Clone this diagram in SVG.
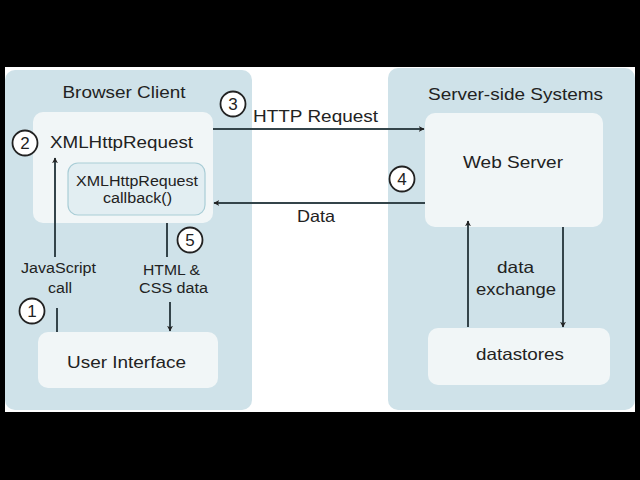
<svg xmlns="http://www.w3.org/2000/svg" width="640" height="480" viewBox="0 0 640 480">
<defs>
<style>
.panel{fill:#cfe2e9}
.box{fill:#f1f6f7}
.t{font-family:"Liberation Sans",Arial,sans-serif;fill:#222;text-anchor:middle}
.ln{stroke:#34444a;stroke-width:2;fill:none}
.num{fill:#fff;stroke:#222;stroke-width:1.8}
.d{font-family:"Liberation Sans",Arial,sans-serif;fill:#222;text-anchor:middle;font-size:17px}
</style>
<marker id="ah" viewBox="0 0 10 10" refX="9" refY="5" markerWidth="6" markerHeight="6" orient="auto" markerUnits="userSpaceOnUse">
<path d="M0,0 L10,5 L0,10 L3,5 z" fill="#222"/>
</marker>
</defs>
<rect width="640" height="480" fill="#000"/>
<rect x="5" y="67" width="630" height="345" fill="#fff"/>
<g id="browser-client">
<rect class="panel" x="5" y="70" width="247" height="340" rx="10"/>
<text class="t" x="124" y="98" font-size="16.5" textLength="123" lengthAdjust="spacingAndGlyphs">Browser Client</text>
</g>
<g id="server-side">
<rect class="panel" x="388" y="68" width="247" height="342" rx="10"/>
<text class="t" x="515.5" y="100" font-size="16.5" textLength="175" lengthAdjust="spacingAndGlyphs">Server-side Systems</text>
</g>
<g id="xhr">
<rect class="box" x="33" y="112" width="180" height="111" rx="10"/>
<text class="t" x="121.5" y="148" font-size="17" textLength="143" lengthAdjust="spacingAndGlyphs">XMLHttpRequest</text>
</g>
<g id="callback">
<rect x="68" y="163" width="137" height="52" rx="10" fill="#e2eef2" stroke="#a9cdd6" stroke-width="1.2"/>
<text class="t" x="137" y="186" font-size="14" textLength="122" lengthAdjust="spacingAndGlyphs">XMLHttpRequest</text>
<text class="t" x="137.5" y="203" font-size="14" textLength="69" lengthAdjust="spacingAndGlyphs">callback()</text>
</g>
<g id="user-interface">
<rect class="box" x="38" y="332" width="180" height="56" rx="10"/>
<text class="t" x="126.5" y="368" font-size="17" textLength="119" lengthAdjust="spacingAndGlyphs">User Interface</text>
</g>
<g id="web-server">
<rect class="box" x="425" y="113" width="178" height="114" rx="10"/>
<text class="t" x="513" y="168" font-size="16.5" textLength="100" lengthAdjust="spacingAndGlyphs">Web Server</text>
</g>
<g id="datastores">
<rect class="box" x="428" y="328" width="182" height="57" rx="10"/>
<text class="t" x="520" y="360" font-size="16.5" textLength="88" lengthAdjust="spacingAndGlyphs">datastores</text>
</g>
<g id="connectors">
<line class="ln" x1="55" y1="257" x2="55" y2="158" marker-end="url(#ah)"/>
<line class="ln" x1="57" y1="308" x2="57" y2="332"/>
<line class="ln" x1="167" y1="223" x2="167" y2="257"/>
<line class="ln" x1="170" y1="302" x2="170" y2="331" marker-end="url(#ah)"/>
<line class="ln" x1="213" y1="129" x2="424" y2="129" marker-end="url(#ah)"/>
<line class="ln" x1="425" y1="203" x2="214" y2="203" marker-end="url(#ah)"/>
<line class="ln" x1="468" y1="327" x2="468" y2="221" marker-end="url(#ah)"/>
<line class="ln" x1="563" y1="227" x2="563" y2="327" marker-end="url(#ah)"/>
<text class="t" x="58.5" y="273" font-size="14" textLength="75" lengthAdjust="spacingAndGlyphs">JavaScript</text>
<text class="t" x="60" y="293" font-size="14" textLength="24" lengthAdjust="spacingAndGlyphs">call</text>
<text class="t" x="171.5" y="275" font-size="14" textLength="57" lengthAdjust="spacingAndGlyphs">HTML &amp;</text>
<text class="t" x="173.5" y="293" font-size="14" textLength="69" lengthAdjust="spacingAndGlyphs">CSS data</text>
<text class="t" x="315.5" y="122" font-size="16.5" textLength="125" lengthAdjust="spacingAndGlyphs">HTTP Request</text>
<text class="t" x="316" y="222" font-size="16.5" textLength="38" lengthAdjust="spacingAndGlyphs">Data</text>
<text class="t" x="515.5" y="273" font-size="16.5" textLength="37" lengthAdjust="spacingAndGlyphs">data</text>
<text class="t" x="516" y="295" font-size="16.5" textLength="80" lengthAdjust="spacingAndGlyphs">exchange</text>
</g>
<g id="step-1"><circle class="num" cx="32" cy="311" r="12.5"/><text class="d" x="32" y="317">1</text></g>
<g id="step-2"><circle class="num" cx="25" cy="143" r="12.5"/><text class="d" x="25" y="149">2</text></g>
<g id="step-3"><circle class="num" cx="233" cy="104" r="12.5"/><text class="d" x="233" y="110">3</text></g>
<g id="step-4"><circle class="num" cx="402" cy="179" r="12.5"/><text class="d" x="402" y="185">4</text></g>
<g id="step-5"><circle class="num" cx="190" cy="240" r="12.5"/><text class="d" x="190" y="246">5</text></g>
</svg>
